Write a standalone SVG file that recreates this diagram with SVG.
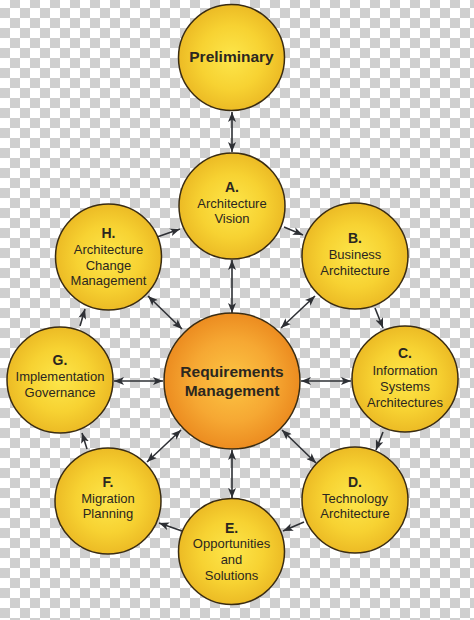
<svg xmlns="http://www.w3.org/2000/svg" width="474" height="620" viewBox="0 0 474 620">
<style>
.n{stroke:#3a2c12;stroke-width:1.5}
.y{fill:url(#gy)}
.o{fill:url(#go)}
text{font-family:"Liberation Sans",Arial,sans-serif;fill:#2b2720;text-anchor:middle}
.t{font-size:13px}
.h{font-size:14px;font-weight:bold}
.b{font-size:15.5px;font-weight:bold}
.c line{stroke:#2e3035;stroke-width:1.6}
</style>
<defs>
<pattern id="chk" patternUnits="userSpaceOnUse" x="0" y="-2" width="20" height="20">
<rect width="20" height="20" fill="#ffffff"/>
<rect x="10" y="0" width="10" height="10" fill="#cfcfcf"/>
<rect x="0" y="10" width="10" height="10" fill="#cfcfcf"/>
</pattern>
<radialGradient id="gy" cx="0.5" cy="0.5" r="0.5">
<stop offset="0" stop-color="#fde64a"/>
<stop offset="0.6" stop-color="#f7d232"/>
<stop offset="1" stop-color="#ecbb25"/>
</radialGradient>
<radialGradient id="go" cx="0.5" cy="0.5" r="0.5">
<stop offset="0" stop-color="#fcc544"/>
<stop offset="0.6" stop-color="#f6a833"/>
<stop offset="1" stop-color="#ec8c20"/>
</radialGradient>
<marker id="ah" viewBox="0 0 10 8" refX="10" refY="4" markerWidth="10" markerHeight="8" markerUnits="userSpaceOnUse" orient="auto-start-reverse">
<path d="M0,0 L10,4 L0,8 L2.5,4 Z" fill="#2e3035"/>
</marker>
</defs>
<rect width="474" height="620" fill="url(#chk)"/>
<g id="connectors" class="c">
<line x1="232" y1="112" x2="232" y2="152" marker-start="url(#ah)" marker-end="url(#ah)"/>
<line x1="284" y1="227" x2="303" y2="235" marker-end="url(#ah)"/>
<line x1="157" y1="237" x2="180" y2="229" marker-end="url(#ah)"/>
<line x1="375" y1="308" x2="383" y2="328" marker-end="url(#ah)"/>
<line x1="383" y1="432" x2="376" y2="450" marker-end="url(#ah)"/>
<line x1="304" y1="522" x2="283" y2="531" marker-end="url(#ah)"/>
<line x1="182" y1="531" x2="159" y2="523" marker-end="url(#ah)"/>
<line x1="87" y1="449" x2="82" y2="433" marker-end="url(#ah)"/>
<line x1="80" y1="326" x2="85" y2="309" marker-end="url(#ah)"/>
<line x1="232" y1="260" x2="232" y2="313" marker-start="url(#ah)" marker-end="url(#ah)"/>
<line x1="315" y1="296" x2="281" y2="328" marker-start="url(#ah)" marker-end="url(#ah)"/>
<line x1="148" y1="296" x2="182" y2="329" marker-start="url(#ah)" marker-end="url(#ah)"/>
<line x1="114" y1="381" x2="163" y2="381" marker-start="url(#ah)" marker-end="url(#ah)"/>
<line x1="351" y1="381" x2="301" y2="381" marker-start="url(#ah)" marker-end="url(#ah)"/>
<line x1="147" y1="462" x2="181" y2="430" marker-start="url(#ah)" marker-end="url(#ah)"/>
<line x1="316" y1="463" x2="282" y2="430" marker-start="url(#ah)" marker-end="url(#ah)"/>
<line x1="232" y1="450" x2="232" y2="498" marker-start="url(#ah)" marker-end="url(#ah)"/>
</g>
<g id="preliminary">
<circle class="n y" cx="231.5" cy="57.5" r="53"/>
<text class="b" x="231.5" y="62">Preliminary</text>
</g>
<g id="a">
<circle class="n y" cx="232" cy="206" r="53"/>
<text class="h" x="232" y="192">A.</text>
<text class="t" x="232" y="208">Architecture</text>
<text class="t" x="232" y="223">Vision</text>
</g>
<g id="b">
<circle class="n y" cx="355" cy="256" r="53"/>
<text class="h" x="355" y="243">B.</text>
<text class="t" x="355" y="259">Business</text>
<text class="t" x="355" y="275">Architecture</text>
</g>
<g id="c">
<circle class="n y" cx="405" cy="379" r="53"/>
<text class="h" x="405" y="358">C.</text>
<text class="t" x="405" y="375">Information</text>
<text class="t" x="405" y="391">Systems</text>
<text class="t" x="405" y="407">Architectures</text>
</g>
<g id="d">
<circle class="n y" cx="355" cy="500" r="53"/>
<text class="h" x="355" y="487">D.</text>
<text class="t" x="355" y="503">Technology</text>
<text class="t" x="355" y="518">Architecture</text>
</g>
<g id="e">
<circle class="n y" cx="231.5" cy="551.5" r="53"/>
<text class="h" x="231.5" y="533">E.</text>
<text class="t" x="231.5" y="548">Opportunities</text>
<text class="t" x="231.5" y="564">and</text>
<text class="t" x="231.5" y="580">Solutions</text>
</g>
<g id="f">
<circle class="n y" cx="108" cy="501" r="53"/>
<text class="h" x="108" y="487">F.</text>
<text class="t" x="108" y="503">Migration</text>
<text class="t" x="108" y="518">Planning</text>
</g>
<g id="g">
<circle class="n y" cx="60" cy="380" r="53"/>
<text class="h" x="60" y="365">G.</text>
<text class="t" x="60" y="381">Implementation</text>
<text class="t" x="60" y="397">Governance</text>
</g>
<g id="h">
<circle class="n y" cx="108.5" cy="257" r="53"/>
<text class="h" x="108.5" y="238">H.</text>
<text class="t" x="108.5" y="254">Architecture</text>
<text class="t" x="108.5" y="270">Change</text>
<text class="t" x="108.5" y="285">Management</text>
</g>
<g id="requirements">
<circle class="n o" cx="232" cy="381" r="68"/>
<text class="b" x="232" y="377">Requirements</text>
<text class="b" x="232" y="396">Management</text>
</g>
</svg>
